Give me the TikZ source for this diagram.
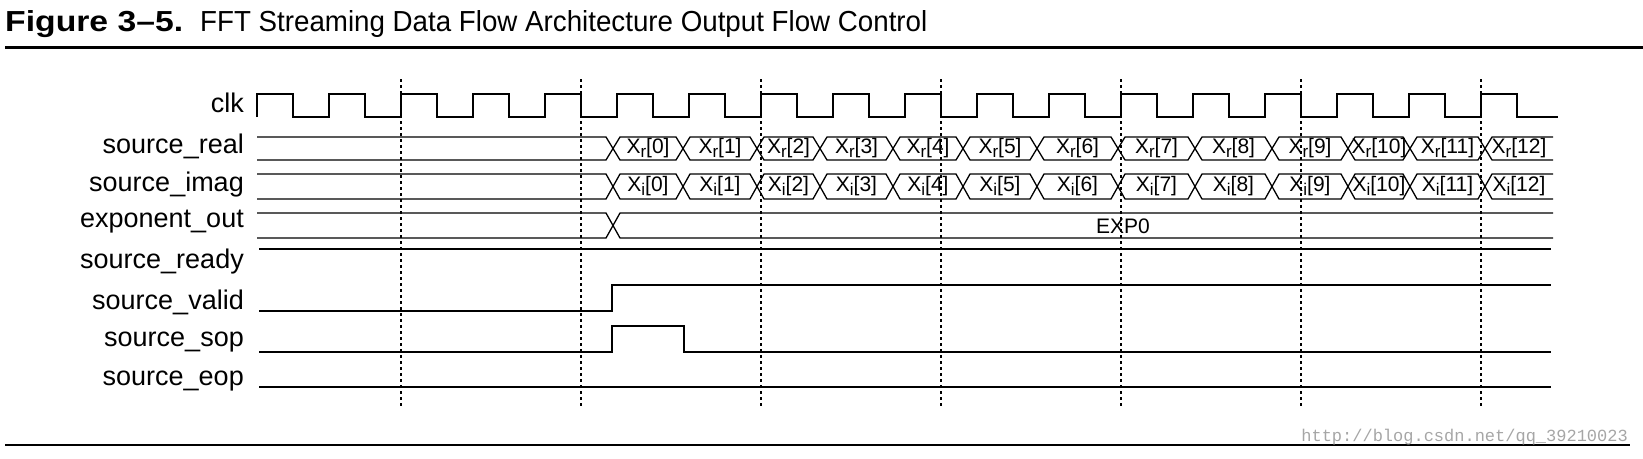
\documentclass[tikz,border=0pt]{standalone}
\usepackage{fontspec}
\setmainfont{Liberation Sans}
\newfontfamily\wmfont{Liberation Mono}
\usetikzlibrary{positioning}
\newcommand\subidx[1]{\raisebox{-4pt}{\fontsize{17}{18}\selectfont #1}}

\begin{document}
\begin{tikzpicture}[x=1pt,y=-1pt,
    sig/.style={line width=1.3pt,line join=miter},
    grid/.style={line width=1.2pt,dash pattern=on 3pt off 3pt},
    lbl/.style={anchor=east,inner sep=0pt,font=\fontsize{27}{30}\selectfont},
    val/.style={inner sep=0pt,font=\fontsize{21}{24}\selectfont}]

            \useasboundingbox (0,0) rectangle (1643,458);

            % heading
            \node[anchor=base west,inner sep=0pt] (fig) at (5,31) {\resizebox{178pt}{21pt}{\bfseries Figure 3--5.}};
            \node[anchor=base west,inner sep=0pt] (title) at (200,31) {\resizebox{727pt}{21pt}{FFT Streaming Data Flow Architecture Output Flow Control}};
            \draw[line width=3pt] (5,47) -- (1643,47);
            \draw[line width=2pt] (5,445) -- (1630,445);
            \node[anchor=base east,inner sep=0pt,text=black!35,font=\wmfont\fontsize{17}{18}\selectfont] (wm) at (1628,441) {http://blog.csdn.net/qq\_39210023};

            % signal names
            \foreach \name/\y in {clk/103, source\_real/146, source\_imag/185, exponent\_out/222,
                                  source\_ready/262, source\_valid/302, source\_sop/342, source\_eop/381}
            {
                \node[lbl] at (244,\y) {\name};
              }

            % reference lines
            \foreach \j in {0,...,6}
                \draw[grid] ({401+180*\j},79) -- ({401+180*\j},408);

            % clock
            \draw[sig] (257,117) \foreach \k in {0,...,17}{ -- ({257+72*\k},117) -- ({257+72*\k},94) -- ({293+72*\k},94) -- ({293+72*\k},117)} -- (1558,117);

            % data buses
            \foreach \ty/\by/\s in {137/160/r, 174/199/i}
            {
                \draw[sig] (257,\ty) -- (606,\ty) -- (613,{(\ty+\by)/2}) -- (606,\by) -- (257,\by);
                \foreach \a/\b/\n in {613/683/0, 683/757/1, 757/820/2, 820/893/3, 893/963/4, 963/1037/5,
                                      1037/1118/6, 1118/1195/7, 1195/1272/8, 1272/1348/9, 1348/1410/10, 1410/1485/11}
                {
                    \draw[sig] (\a,{(\ty+\by)/2}) -- ({\a+7},\ty) -- ({\b-7},\ty) -- (\b,{(\ty+\by)/2}) -- ({\b-7},\by) -- ({\a+7},\by) -- cycle;
                    \node[val] (\s\n) at ({(\a+\b)/2},{(\ty+\by)/2}) {X\subidx{\s}[\n]};
                  }
                \draw[sig] (1553,\ty) -- (1492,\ty) -- (1485,{(\ty+\by)/2}) -- (1492,\by) -- (1553,\by);
                \node[val] (\s12) at (1519,{(\ty+\by)/2}) {X\subidx{\s}[12]};
              }

            % exponent
            \draw[sig] (257,213) -- (606,213) -- (620,238) -- (1553,238);
            \draw[sig] (257,238) -- (606,238) -- (620,213) -- (1553,213);
            \node[val] (exp) at (1123,226) {EXP0};

            % control lines
            \draw[sig] (259,249) -- (1551,249);
            \draw[sig] (259,311) -- (612,311) -- (612,285) -- (1551,285);
            \draw[sig] (259,352) -- (612,352) -- (612,326) -- (684,326) -- (684,352) -- (1551,352);
            \draw[sig] (259,387) -- (1551,387);

        \end{tikzpicture}
\end{document}
